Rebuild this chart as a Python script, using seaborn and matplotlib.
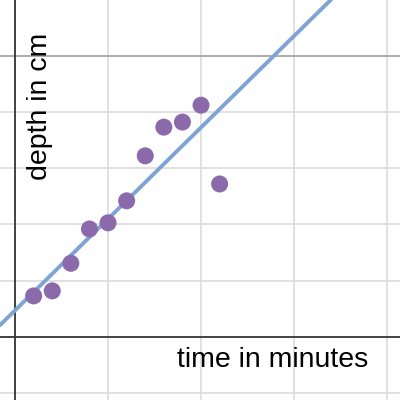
import numpy as np
import pandas as pd
import matplotlib
matplotlib.use('Agg')
import matplotlib.pyplot as plt
import seaborn as sns

# data
time_min = [1, 2, 3, 4, 5, 6, 7, 8, 9, 10, 11]
depth_cm = [0.73, 0.82, 1.31, 1.92, 2.03, 2.42, 3.22, 3.73, 3.82, 4.12, 2.72]
line_x = [-0.81, 17.0]
line_y = [0.21, 6.0]

df = pd.DataFrame({'time': time_min, 'depth': depth_cm})

sns.set_style('white')
fig = plt.figure(figsize=(4, 4), dpi=100)
ax = fig.add_axes([0, 0, 1, 1])

# grid
for gx in [5, 10, 15, 20]:
    ax.axvline(gx, color='#dcdcdc', lw=1.2, zorder=0)
for gy in [-1, 1, 2, 3, 4]:
    ax.axhline(gy, color='#dcdcdc', lw=1.2, zorder=0)
ax.axhline(5, color='#a0a0a0', lw=1.2, zorder=0)
ax.axhline(0, color='#333333', lw=1.3, zorder=1)
ax.axvline(0, color='#333333', lw=1.3, zorder=1)

sns.lineplot(x=line_x, y=line_y, ax=ax, color='#7ea4d6', lw=2.8, zorder=2)
sns.scatterplot(data=df, x='time', y='depth', ax=ax, color='#8a6aab', s=150,
                edgecolor='none', zorder=3)

ax.set_xlim(-0.81, 20.7)
ax.set_ylim(-1.12, 5.99)
ax.set_xticks([])
ax.set_yticks([])
ax.set_xlabel('')
ax.set_ylabel('')
for s in ax.spines.values():
    s.set_visible(False)

ax.text(0.92, 0.1, 'time in minutes', transform=ax.transAxes, ha='right',
        va='center', fontsize=20.5, color='black', family='Liberation Sans')
ax.text(0.1, 0.733, 'depth in cm', transform=ax.transAxes, ha='center',
        va='center', rotation=90, fontsize=20.5, color='black', family='Liberation Sans')

fig.savefig('out.png', dpi=100)
